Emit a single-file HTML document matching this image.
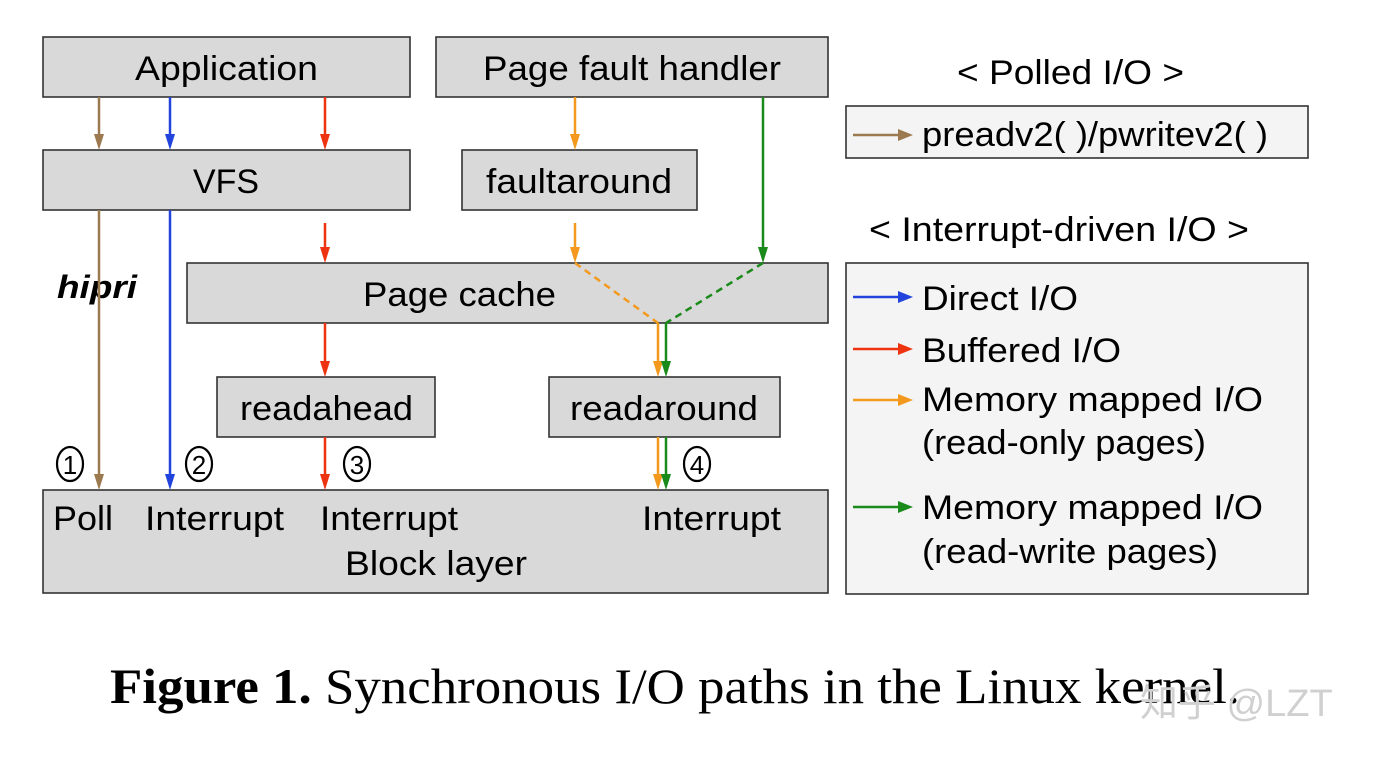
<!DOCTYPE html>
<html><head><meta charset="utf-8"><style>
html,body{margin:0;padding:0;background:#fff;}
svg{display:block;}
.s{font-family:"Liberation Sans",sans-serif;fill:#000;}
</style></head><body>
<svg width="1386" height="760" viewBox="0 0 1386 760" xmlns="http://www.w3.org/2000/svg">
<g fill="#d9d9d9" stroke="#333" stroke-width="1.6">
<rect x="43" y="37" width="367" height="60"/>
<rect x="436" y="37" width="392" height="60"/>
<rect x="43" y="150" width="367" height="60"/>
<rect x="462" y="150" width="235" height="60"/>
<rect x="187" y="263" width="641" height="60"/>
<rect x="217" y="377" width="218" height="60"/>
<rect x="549" y="377" width="231" height="60"/>
<rect x="43" y="490" width="785" height="103"/>
</g>
<g fill="#f4f4f4" stroke="#333" stroke-width="1.6">
<rect x="846" y="106" width="462" height="52"/>
<rect x="846" y="263" width="462" height="331"/>
</g>
<g class="s" font-size="34" lengthAdjust="spacingAndGlyphs">
<text class="s" x="135" y="80" textLength="183" lengthAdjust="spacingAndGlyphs">Application</text>
<text class="s" x="483" y="80" textLength="298" lengthAdjust="spacingAndGlyphs">Page fault handler</text>
<text class="s" x="193" y="193" textLength="66" lengthAdjust="spacingAndGlyphs">VFS</text>
<text class="s" x="486" y="193" textLength="186" lengthAdjust="spacingAndGlyphs">faultaround</text>
<text class="s" x="363" y="306" textLength="193" lengthAdjust="spacingAndGlyphs">Page cache</text>
<text class="s" x="240" y="420" textLength="173" lengthAdjust="spacingAndGlyphs">readahead</text>
<text class="s" x="570" y="420" textLength="188" lengthAdjust="spacingAndGlyphs">readaround</text>
<text class="s" x="345" y="575" textLength="182" lengthAdjust="spacingAndGlyphs">Block layer</text>
<text class="s" x="53" y="530" textLength="60" lengthAdjust="spacingAndGlyphs">Poll</text>
<text class="s" x="145" y="530" textLength="139" lengthAdjust="spacingAndGlyphs">Interrupt</text>
<text class="s" x="320" y="530" textLength="138" lengthAdjust="spacingAndGlyphs">Interrupt</text>
<text class="s" x="642" y="530" textLength="139" lengthAdjust="spacingAndGlyphs">Interrupt</text>
<text class="s" x="57" y="298" font-weight="bold" font-style="italic" font-size="32" textLength="80" lengthAdjust="spacingAndGlyphs">hipri</text>
</g>
<g stroke-width="2.5" fill="none">
<line x1="99" y1="97" x2="99" y2="138" stroke="#9c7a50"/>
<line x1="99" y1="210" x2="99" y2="478" stroke="#9c7a50"/>
<line x1="170" y1="97" x2="170" y2="138" stroke="#2244dd"/>
<line x1="170" y1="210" x2="170" y2="478" stroke="#2244dd"/>
<line x1="325" y1="97" x2="325" y2="138" stroke="#ee3311"/>
<line x1="325" y1="223" x2="325" y2="251" stroke="#ee3311"/>
<line x1="325" y1="323" x2="325" y2="365" stroke="#ee3311"/>
<line x1="325" y1="437" x2="325" y2="478" stroke="#ee3311"/>
<line x1="575" y1="97" x2="575" y2="138" stroke="#f39a1e"/>
<line x1="575" y1="223" x2="575" y2="251" stroke="#f39a1e"/>
<line x1="575" y1="263" x2="658" y2="323" stroke="#f39a1e" stroke-dasharray="7,5"/>
<line x1="658" y1="323" x2="658" y2="365" stroke="#f39a1e"/>
<line x1="658" y1="437" x2="658" y2="478" stroke="#f39a1e"/>
<line x1="763" y1="97" x2="763" y2="251" stroke="#1a8a1a"/>
<line x1="763" y1="263" x2="666" y2="323" stroke="#1a8a1a" stroke-dasharray="7,5"/>
<line x1="666" y1="323" x2="666" y2="365" stroke="#1a8a1a"/>
<line x1="666" y1="437" x2="666" y2="478" stroke="#1a8a1a"/>
</g>
<g>
<path d="M94,134 L104,134 L99,150 z" fill="#9c7a50"/>
<path d="M94,474 L104,474 L99,490 z" fill="#9c7a50"/>
<path d="M165,134 L175,134 L170,150 z" fill="#2244dd"/>
<path d="M165,474 L175,474 L170,490 z" fill="#2244dd"/>
<path d="M320,134 L330,134 L325,150 z" fill="#ee3311"/>
<path d="M320,247 L330,247 L325,263 z" fill="#ee3311"/>
<path d="M320,361 L330,361 L325,377 z" fill="#ee3311"/>
<path d="M320,474 L330,474 L325,490 z" fill="#ee3311"/>
<path d="M570,134 L580,134 L575,150 z" fill="#f39a1e"/>
<path d="M570,247 L580,247 L575,263 z" fill="#f39a1e"/>
<path d="M653,361 L663,361 L658,377 z" fill="#f39a1e"/>
<path d="M653,474 L663,474 L658,490 z" fill="#f39a1e"/>
<path d="M758,247 L768,247 L763,263 z" fill="#1a8a1a"/>
<path d="M661,361 L671,361 L666,377 z" fill="#1a8a1a"/>
<path d="M661,474 L671,474 L666,490 z" fill="#1a8a1a"/>
</g>
<g fill="none" stroke="#000" stroke-width="2.2">
<ellipse cx="70" cy="464" rx="13" ry="17"/>
<ellipse cx="199" cy="464" rx="13" ry="17"/>
<ellipse cx="357" cy="464" rx="13" ry="17"/>
<ellipse cx="697" cy="464" rx="13" ry="17"/>
</g>
<g class="s" font-size="26" text-anchor="middle">
<text class="s" x="70" y="474">1</text>
<text class="s" x="199" y="474">2</text>
<text class="s" x="357" y="474">3</text>
<text class="s" x="697" y="474">4</text>
</g>
<g font-size="34">
<text class="s" x="957" y="84" textLength="227" lengthAdjust="spacingAndGlyphs">&lt; Polled I/O &gt;</text>
<text class="s" x="922" y="146" textLength="346" lengthAdjust="spacingAndGlyphs">preadv2( )/pwritev2( )</text>
<text class="s" x="869" y="241" textLength="380" lengthAdjust="spacingAndGlyphs">&lt; Interrupt-driven I/O &gt;</text>
<text class="s" x="922" y="310" textLength="156" lengthAdjust="spacingAndGlyphs">Direct I/O</text>
<text class="s" x="922" y="362" textLength="199" lengthAdjust="spacingAndGlyphs">Buffered I/O</text>
<text class="s" x="922" y="411" textLength="341" lengthAdjust="spacingAndGlyphs">Memory mapped I/O</text>
<text class="s" x="922" y="454" textLength="284" lengthAdjust="spacingAndGlyphs">(read-only pages)</text>
<text class="s" x="922" y="519" textLength="341" lengthAdjust="spacingAndGlyphs">Memory mapped I/O</text>
<text class="s" x="922" y="563" textLength="296" lengthAdjust="spacingAndGlyphs">(read-write pages)</text>
</g>
<g stroke-width="2.5">
<line x1="853" y1="135" x2="900" y2="135" stroke="#9c7a50"/><path d="M898,129 L913,135 L898,141 z" fill="#9c7a50"/>
<line x1="853" y1="297" x2="900" y2="297" stroke="#2244dd"/><path d="M898,291 L913,297 L898,303 z" fill="#2244dd"/>
<line x1="853" y1="349" x2="900" y2="349" stroke="#ee3311"/><path d="M898,343 L913,349 L898,355 z" fill="#ee3311"/>
<line x1="853" y1="400" x2="900" y2="400" stroke="#f39a1e"/><path d="M898,394 L913,400 L898,406 z" fill="#f39a1e"/>
<line x1="853" y1="507" x2="900" y2="507" stroke="#1a8a1a"/><path d="M898,501 L913,507 L898,513 z" fill="#1a8a1a"/>
</g>
<text x="110" y="703" style="font-family:'Liberation Serif',serif;font-size:50px;fill:#000" textLength="1130" lengthAdjust="spacingAndGlyphs"><tspan font-weight="bold">Figure 1.</tspan> Synchronous I/O paths in the Linux kernel.</text>
<text x="1140" y="716" style="font-family:'Liberation Sans','Noto Sans CJK SC',sans-serif;font-size:38px;fill:#d0d0d0">知乎 @LZT</text>
</svg>
</body></html>
